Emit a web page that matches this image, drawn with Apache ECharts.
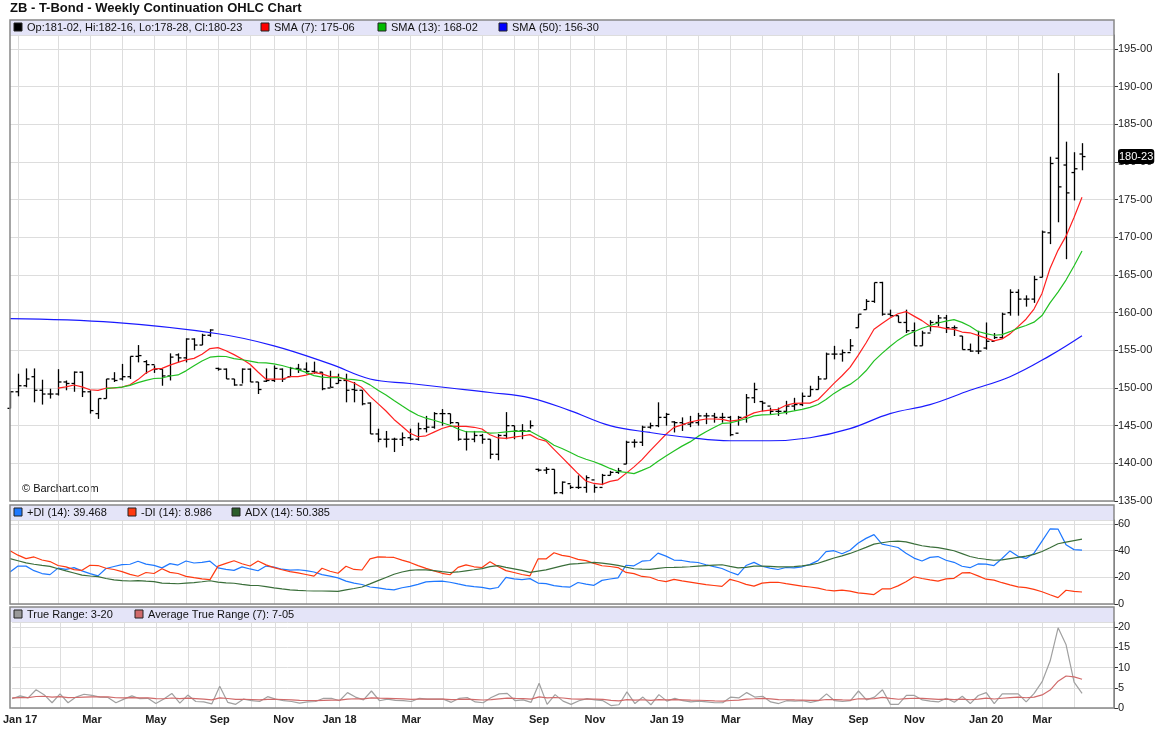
<![CDATA[<!DOCTYPE html>
<html>
<head>
<meta charset="utf-8">
<script src="https://cdn.jsdelivr.net/npm/echarts@6/dist/echarts.min.js"></script>
<style>
  html, body { margin: 0; padding: 0; background: #fff; }
  #chart { width: 1156px; height: 748px; }
</style>
</head>
<body>
<div id="chart"></div>
<script>
// weekly OHLC, Jan 2017 .. Mar 2020, read off the picture
const opens = [147.3,149.5,150.3,151.5,149.7,149.2,149.2,150.8,150.6,152.1,149.5,146.6,148.6,151.2,151.2,151.5,154.2,153.5,153.1,152.5,
  151.6,154.4,154.0,156.5,155.7,157.0,152.6,152.5,151.2,150.4,152.5,150.8,150.9,151.0,152.5,151.5,152.6,152.5,152.2,152.1,
  150.0,150.6,151.0,149.8,149.7,148.0,143.9,143.2,143.2,143.2,143.4,143.2,144.6,144.8,146.6,146.6,145.4,143.2,143.2,143.7,
  143.2,141.2,143.7,145.0,144.3,144.3,139.2,139.1,139.2,136.1,137.3,136.8,136.8,137.8,136.8,138.4,138.8,139.9,142.8,142.8,
  144.8,145.0,146.1,145.5,145.4,145.2,145.4,146.3,146.3,146.1,146.1,144.0,146.1,148.7,148.2,147.6,146.9,146.9,147.6,147.8,
  148.9,149.8,151.2,154.5,154.5,154.7,158.0,160.4,161.5,164.0,159.8,159.6,158.7,157.6,155.6,157.3,158.7,159.3,158.0,156.9,
  155.1,154.9,155.3,156.2,156.7,160.0,162.7,161.8,161.8,164.7,170.6,180.5,179.6,178.6,181.06];
const highs = [149.6,151.9,152.6,152.6,151.1,149.9,152.5,151.0,152.2,152.2,149.7,148.6,151.2,152.1,153.2,154.2,155.7,153.7,153.0,152.5,
  154.6,154.6,156.6,156.6,157.2,157.8,152.7,152.6,151.2,152.6,152.6,150.8,152.6,153.0,152.6,152.8,153.2,153.4,153.5,152.1,
  152.3,151.9,151.9,150.8,149.7,148.1,144.6,144.3,143.4,144.1,144.6,145.4,146.3,146.8,147.2,146.6,145.4,144.3,144.3,143.9,
  143.2,143.9,146.8,145.0,145.2,145.7,139.3,139.5,139.2,137.6,137.1,138.4,138.4,137.2,138.6,139.0,139.4,143.0,143.2,145.0,
  145.4,148.1,146.7,145.6,146.1,146.3,146.7,146.7,146.7,146.7,146.3,146.3,149.2,150.7,148.3,147.4,147.4,148.3,148.7,149.4,
  150.3,151.6,154.7,155.6,155.1,156.5,159.8,161.8,164.0,164.1,160.4,159.6,160.4,158.7,157.6,159.0,159.7,159.7,158.3,156.9,
  155.9,157.6,158.7,157.3,160.0,163.1,163.1,162.3,164.9,170.9,180.7,191.8,182.7,181.3,182.5];
const lows = [147.3,148.9,150.1,148.1,147.8,148.6,149.0,149.7,149.5,148.8,146.6,145.9,148.6,150.8,151.0,151.2,153.4,151.9,152.0,150.3,
  151.0,153.4,153.4,155.0,155.7,156.8,152.3,151.2,150.3,150.6,150.8,149.2,150.8,150.8,150.8,151.5,152.0,151.9,151.9,149.7,
  150.1,150.6,148.1,148.1,147.7,143.9,142.8,142.1,141.5,142.3,143.0,143.0,144.1,144.6,145.0,145.2,143.0,141.7,142.8,142.6,
  140.6,140.4,143.2,143.2,143.2,144.6,138.9,138.6,135.9,135.9,136.6,136.6,136.1,136.1,137.1,138.4,138.6,139.9,142.1,142.3,
  144.6,144.8,145.0,144.1,144.3,144.8,145.0,145.2,145.4,145.4,143.6,145.0,145.4,148.0,146.9,146.5,146.3,146.5,147.0,147.6,
  148.9,149.8,151.2,153.8,153.5,154.9,158.0,160.4,161.3,159.6,159.5,158.7,157.3,155.6,155.6,157.5,158.2,157.3,156.9,155.1,
  154.8,154.5,155.1,156.5,156.5,159.6,159.6,160.8,161.3,164.7,169.1,172.0,167.1,174.9,178.9];
const closes = [149.5,150.3,151.2,149.7,149.2,149.2,150.8,150.6,152.1,149.5,147.0,148.6,151.2,151.0,151.5,154.2,154.3,153.1,152.5,151.6,
  154.1,154.0,156.5,155.7,157.0,157.7,152.5,151.2,150.4,152.5,150.8,149.8,151.0,152.6,151.2,152.6,152.5,152.2,152.1,149.9,
  150.1,151.0,149.7,149.7,147.9,143.9,143.2,143.2,143.2,143.4,143.2,144.6,144.8,146.6,146.6,145.4,143.2,143.2,143.7,143.2,
  141.2,143.7,145.0,144.3,144.3,145.0,139.1,139.2,136.1,137.5,136.8,136.8,138.1,136.8,138.4,138.8,139.0,142.8,142.8,144.8,
  145.0,146.1,146.5,145.4,145.2,145.4,146.3,146.3,146.1,146.1,143.8,146.1,148.7,149.8,148.0,146.9,146.9,147.6,147.8,148.9,
  149.8,151.2,154.5,154.5,154.7,155.6,159.8,161.5,164.0,159.8,159.6,158.7,157.6,155.6,157.3,158.7,159.3,158.0,158.0,155.1,
  154.9,154.9,156.2,156.7,159.8,162.7,161.8,161.8,164.4,170.7,179.8,176.7,175.9,179.1,180.72];

// 50-week SMA as read off the blue line (bar index, value)
const sma50Idx = [0,13,26,33,40,45,50,55,60,65,70,75,80,85,90,95,100,105,110,115,120,125,130,134];
const sma50Val = [159.2,158.7,157.2,155.6,153.2,151.2,150.6,150.0,149.4,148.7,147.0,145.0,144.1,143.4,143.0,143.0,143.4,144.6,146.6,147.8,149.7,151.5,154.3,156.94];

// x-axis month labels at bar index
const monthLabels = {1:'Jan 17',10:'Mar',18:'May',26:'Sep',34:'Nov',41:'Jan 18',50:'Mar',59:'May',66:'Sep',73:'Nov',
  82:'Jan 19',90:'Mar',99:'May',106:'Sep',113:'Nov',122:'Jan 20',129:'Mar'};
const gridIdx = [1,6,10,14,18,22,26,30,33,37, 41,46,50,54,59,63,66,70,73,77, 82,86,90,94,99,103,106,110,113,117, 122,126,129,133];

const N = 139; // a few empty slots at the right edge
const cats = [];
for (let i = 0; i < N; i++) cats.push(String(i));

function sma (arr, n) {
  return arr.map((v, i) => {
    if (i < n - 1) return null;
    let s = 0;
    for (let k = i - n + 1; k <= i; k++) s += arr[k];
    return +(s / n).toFixed(3);
  });
}

// Wilder DI / ADX, true range / ATR
const trArr = [], pdm = [], mdm = [];
for (let i = 0; i < closes.length; i++) {
  if (i === 0) { trArr.push(highs[0] - lows[0]); pdm.push(0); mdm.push(0); continue; }
  const up = highs[i] - highs[i - 1];
  const dn = lows[i - 1] - lows[i];
  trArr.push(Math.max(highs[i] - lows[i], Math.abs(highs[i] - closes[i - 1]), Math.abs(lows[i] - closes[i - 1])));
  pdm.push(up > dn && up > 0 ? up : 0);
  mdm.push(dn > up && dn > 0 ? dn : 0);
}
function wilder (arr, n, seed) {
  const out = [];
  let v = seed;
  arr.forEach((x, i) => { v = i === 0 ? seed : v + (x - v) / n; out.push(v); });
  return out;
}
const atr14 = wilder(trArr, 14, 2.5);
const pdm14 = wilder(pdm, 14, 0.6);
const mdm14 = wilder(mdm, 14, 1.0);
const pdi = atr14.map((a, i) => 100 * pdm14[i] / a);
const mdi = atr14.map((a, i) => 100 * mdm14[i] / a);
const dx = pdi.map((p, i) => 100 * Math.abs(p - mdi[i]) / (p + mdi[i] || 1));
const adx = wilder(dx, 14, 34);
const atr7 = wilder(trArr, 7, 2.5);

function fmt32 (v) {
  const w = Math.floor(v + 1e-9);
  let f = Math.round((v - w) * 32);
  return w + '-' + String(f).padStart(2, '0');
}

const ohlcData = closes.map((c, i) => [i, opens[i], highs[i], lows[i], c]);
const font = 'Liberation Sans, Arial, sans-serif';

const chart = echarts.init(document.getElementById('chart'), null, { renderer: 'canvas' });

const xBase = {
  type: 'category', data: cats, boundaryGap: false,
  axisLine: { show: false }, axisTick: { show: false },
  axisLabel: { show: false },
  splitLine: { show: true, interval: (i) => gridIdx.indexOf(i) >= 0, lineStyle: { color: '#dddddd' } }
};
const yBase = {
  position: 'right', scale: true,
  axisLine: { show: true, lineStyle: { color: '#777' } },
  axisTick: { show: true, length: 4, lineStyle: { color: '#333' } },
  axisLabel: { color: '#222', fontSize: 11, fontFamily: font, margin: 4 },
  splitLine: { lineStyle: { color: '#dddddd' } }
};

function strip (top, h, items) {
  const els = [{ type: 'rect', shape: { x: 10, y: top, width: 1104, height: 15 }, style: { fill: '#e4e4f8' }, silent: true }];
  items.forEach(it => {
    els.push({ type: 'rect', shape: { x: it.x, y: top + 3, width: 8, height: 8 }, style: { fill: it.c, stroke: '#222', lineWidth: 1 } });
    els.push({ type: 'text', x: it.x + 13, y: top + 2, style: { text: it.t, fill: '#111', font: '11px ' + font } });
  });
  els.push({ type: 'rect', shape: { x: 10, y: top, width: 1104, height: h }, style: { fill: 'none', stroke: '#888', lineWidth: 1.5 }, silent: true, z: 100 });
  return els;
}

const option = {
  animation: false,
  backgroundColor: '#fff',
  graphic: [
    { type: 'text', left: 10, top: 2, style: { text: 'ZB - T-Bond - Weekly Continuation OHLC Chart', fill: '#111', font: 'bold 13px ' + font } },
    ...strip(20, 481, [
      { x: 14, c: '#000', t: 'Op:181-02, Hi:182-16, Lo:178-28, Cl:180-23' },
      { x: 261, c: '#f00', t: 'SMA (7): 175-06' },
      { x: 378, c: '#0b0', t: 'SMA (13): 168-02' },
      { x: 499, c: '#00f', t: 'SMA (50): 156-30' }
    ]),
    { type: 'text', left: 22, top: 483, style: { text: '© Barchart.com', fill: '#111', font: '11px ' + font } },
    ...strip(505, 99, [
      { x: 14, c: '#1e78ff', t: '+DI (14): 39.468' },
      { x: 128, c: '#ff3a10', t: '-DI (14): 8.986' },
      { x: 232, c: '#2b5e2b', t: 'ADX (14): 50.385' }
    ]),
    ...strip(607, 101, [
      { x: 14, c: '#999', t: 'True Range: 3-20' },
      { x: 135, c: '#d06a6a', t: 'Average True Range (7): 7-05' }
    ])
  ],
  grid: [
    { left: 10, right: 42, top: 35, height: 466 },
    { left: 10, right: 42, top: 520, height: 84 },
    { left: 10, right: 42, top: 622, height: 86 }
  ],
  xAxis: [
    Object.assign({}, xBase, { gridIndex: 0 }),
    Object.assign({}, xBase, { gridIndex: 1 }),
    Object.assign({}, xBase, {
      gridIndex: 2,
      axisLabel: {
        show: true, interval: (i) => monthLabels[i] !== undefined,
        formatter: (v, i) => monthLabels[i] || '',
        fontWeight: 'bold', fontSize: 11, fontFamily: font, color: '#222', margin: 6
      }
    })
  ],
  yAxis: [
    Object.assign({}, yBase, {
      gridIndex: 0, min: 135, max: 196.86, interval: 5,
      axisLabel: Object.assign({}, yBase.axisLabel, { formatter: fmt32, showMaxLabel: false }),
      axisPointer: {
        show: true, type: 'line', value: 180.72, status: 'show', triggerTooltip: false,
        lineStyle: { opacity: 0 },
        label: { show: true, formatter: () => '180-23', backgroundColor: '#000', color: '#fff', padding: [2, 1], fontSize: 11, fontFamily: font, margin: 4 }
      }
    }),
    Object.assign({}, yBase, { gridIndex: 1, min: 0, max: 63, interval: 20, axisLabel: Object.assign({}, yBase.axisLabel, { showMaxLabel: false }) }),
    Object.assign({}, yBase, { gridIndex: 2, min: 0, max: 21.25, interval: 5, axisLabel: Object.assign({}, yBase.axisLabel, { showMaxLabel: false }) })
  ],
  axisPointer: { triggerOn: 'none' },
  series: [
    {
      type: 'custom', xAxisIndex: 0, yAxisIndex: 0, data: ohlcData,
      renderItem: function (params, api) {
        const x = api.value(0);
        const pO = api.coord([x, api.value(1)]);
        const pH = api.coord([x, api.value(2)]);
        const pL = api.coord([x, api.value(3)]);
        const pC = api.coord([x, api.value(4)]);
        const cx = Math.round(pH[0]) + 0.5;
        const st = { stroke: '#000', lineWidth: 1.3 };
        return {
          type: 'group',
          children: [
            { type: 'line', shape: { x1: cx, y1: pH[1], x2: cx, y2: pL[1] }, style: st },
            { type: 'line', shape: { x1: cx - 3, y1: pO[1], x2: cx, y2: pO[1] }, style: st },
            { type: 'line', shape: { x1: cx, y1: pC[1], x2: cx + 3, y2: pC[1] }, style: st }
          ]
        };
      },
      z: 3
    },
    { type: 'line', xAxisIndex: 0, yAxisIndex: 0, data: sma(closes, 7), showSymbol: false, lineStyle: { color: '#ff2020', width: 1.2 }, z: 4 },
    { type: 'line', xAxisIndex: 0, yAxisIndex: 0, data: sma(closes, 13), showSymbol: false, lineStyle: { color: '#22c022', width: 1.2 }, z: 4 },
    { type: 'line', xAxisIndex: 0, yAxisIndex: 0, data: sma50Idx.map((k, j) => [k, sma50Val[j]]), smooth: 0.4, showSymbol: false, lineStyle: { color: '#1a1aff', width: 1.2 }, z: 4 },
    { type: 'line', xAxisIndex: 1, yAxisIndex: 1, data: pdi, showSymbol: false, lineStyle: { color: '#1e78ff', width: 1.2 } },
    { type: 'line', xAxisIndex: 1, yAxisIndex: 1, data: mdi, showSymbol: false, lineStyle: { color: '#ff3a10', width: 1.2 } },
    { type: 'line', xAxisIndex: 1, yAxisIndex: 1, data: adx, showSymbol: false, lineStyle: { color: '#3a6e3a', width: 1.2 } },
    { type: 'line', xAxisIndex: 2, yAxisIndex: 2, data: trArr, showSymbol: false, lineStyle: { color: '#a0a0a0', width: 1.2 } },
    { type: 'line', xAxisIndex: 2, yAxisIndex: 2, data: atr7, showSymbol: false, lineStyle: { color: '#d06a6a', width: 1.2 } }
  ]
};
chart.setOption(option);
</script>
</body>
</html>
]]>
